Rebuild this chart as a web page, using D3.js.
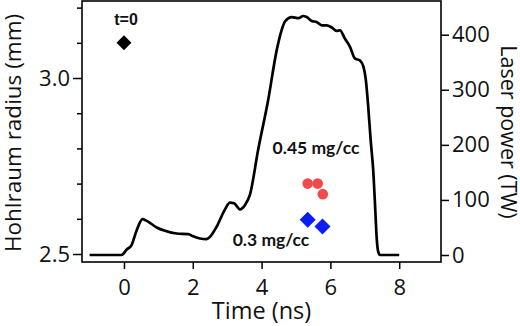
<!DOCTYPE html>
<html>
<head>
<meta charset="utf-8">
<script src="https://cdn.jsdelivr.net/npm/d3@7"></script>
<style>
  body { margin: 0; background: #fff; }
  svg { display: block; font-family: 'Open Sans', Lato, sans-serif; }
</style>
</head>
<body>
<div id="chart"></div>
<script>
// Laser pulse (right axis)
const powerTime = [-1.0, -0.07, 0.08, 0.22, 0.37, 0.54, 0.66, 0.95, 1.19, 1.53, 1.87, 2.01, 2.21, 2.40, 2.50,
  2.69, 2.93, 3.08, 3.20, 3.37, 3.52, 3.66, 3.90, 4.19, 4.44, 4.58, 4.68, 4.88, 5.07, 5.21, 5.31, 5.46,
  5.60, 5.75, 5.89, 6.04, 6.18, 6.28, 6.42, 6.57, 6.71, 6.86, 6.96, 7.03, 7.10, 7.17, 7.25, 7.30, 7.35,
  7.39, 7.44, 8.0];
const powerTW = [0, 0, 10, 18, 45, 65, 62, 50, 44, 39, 38, 34, 30, 29, 33,
  51, 82, 95, 94, 83, 91, 109, 191, 281, 372, 408, 424, 432, 430, 434, 432, 425,
  423, 417, 417, 413, 407, 408, 393, 378, 357, 353, 342, 318, 269, 209, 149, 88, 27,
  6, 0, 0];

// Hohlraum radius measurements (left axis)
const startTime = [0];
const startRadius = [3.1];
const highDensTime = [5.34, 5.63, 5.78];
const highDensRadius = [2.70, 2.70, 2.67];
const lowDensTime = [5.34, 5.77];
const lowDensRadius = [2.597, 2.578];

const xTicks = [0, 2, 4, 6, 8];
const radiusTicks = [2.5, 3.0];
const radiusMinor = [2.6, 2.7, 2.8, 2.9, 3.1, 3.2];
const powerTicks = [0, 100, 200, 300, 400];

const width = 520, height = 326;
const plotLeft = 82, plotRight = 441, plotTop = 1, plotBottom = 262;

const x = d3.scaleLinear().domain([-1.22, 9.215]).range([plotLeft, plotRight]);
const yR = d3.scaleLinear().domain([2.4773, 3.2188]).range([plotBottom, plotTop]);
const yP = d3.scaleLinear().domain([-12.7, 461.2]).range([plotBottom, plotTop]);

const svg = d3.select('#chart').append('svg')
  .attr('width', width)
  .attr('height', height);

// axes
const xAxis = svg.append('g')
  .attr('transform', `translate(0,${plotBottom})`)
  .call(d3.axisBottom(x).tickValues(xTicks).tickSize(7).tickPadding(10));

const yAxis = svg.append('g')
  .attr('transform', `translate(${plotLeft},0)`)
  .call(d3.axisLeft(yR).tickValues(radiusTicks).tickFormat(d3.format('.1f')).tickSize(9).tickPadding(3));

svg.append('g')
  .attr('transform', `translate(${plotLeft},0)`)
  .call(d3.axisLeft(yR).tickValues(radiusMinor).tickFormat('').tickSize(5));

const pAxis = svg.append('g')
  .attr('transform', `translate(${plotRight},0)`)
  .call(d3.axisRight(yP).tickValues(powerTicks).tickSize(8).tickPadding(3));

svg.selectAll('.domain').remove();
svg.selectAll('.tick line').attr('stroke', '#000').attr('stroke-width', 1.5);
[xAxis, yAxis, pAxis].forEach(g => g
  .attr('font-family', null)
  .attr('font-size', 22)
  .selectAll('text').attr('fill', '#111'));

// frame
svg.append('rect')
  .attr('x', plotLeft)
  .attr('y', plotTop)
  .attr('width', plotRight - plotLeft)
  .attr('height', plotBottom - plotTop)
  .attr('fill', 'none')
  .attr('stroke', '#000')
  .attr('stroke-width', 1.6);

// laser power
const line = d3.line()
  .x((d, i) => x(powerTime[i]))
  .y(d => yP(d))
  .curve(d3.curveMonotoneX);

svg.append('path')
  .datum(powerTW)
  .attr('d', line)
  .attr('fill', 'none')
  .attr('stroke', '#000')
  .attr('stroke-width', 2.7)
  .attr('stroke-linejoin', 'round');

// markers
const diamond = size => d3.symbol(d3.symbolSquare, size)();

svg.selectAll('.start')
  .data(startRadius)
  .enter()
  .append('path')
  .attr('d', diamond(112))
  .attr('transform', (d, i) => `translate(${x(startTime[i])},${yR(d)}) rotate(45)`)
  .attr('fill', '#000');

svg.selectAll('.high')
  .data(highDensRadius)
  .enter()
  .append('circle')
  .attr('cx', (d, i) => x(highDensTime[i]))
  .attr('cy', d => yR(d))
  .attr('r', 5.3)
  .attr('fill', '#f04a4a');

svg.selectAll('.low')
  .data(lowDensRadius)
  .enter()
  .append('path')
  .attr('d', diamond(128))
  .attr('transform', (d, i) => `translate(${x(lowDensTime[i])},${yR(d)}) rotate(45)`)
  .attr('fill', '#0b1ef0');

// annotations
const note = (tx, ty, s, family, size) => svg.append('text')
  .attr('x', tx)
  .attr('y', ty)
  .attr('text-anchor', 'middle')
  .attr('font-family', family)
  .attr('font-weight', 'bold')
  .attr('font-size', size)
  .attr('fill', '#111')
  .text(s);

note(126, 25, 't=0', "'Liberation Sans', Arial, sans-serif", 16);
note(316, 154, '0.45 mg/cc', 'Lato, sans-serif', 17.5);
note(271, 246, '0.3 mg/cc', 'Lato, sans-serif', 17.5);

// axis titles
svg.append('text')
  .attr('x', (plotLeft + plotRight) / 2)
  .attr('y', 319)
  .attr('text-anchor', 'middle')
  .attr('font-size', 23.5)
  .attr('fill', '#111')
  .text('Time (ns)');

svg.append('text')
  .attr('transform', `translate(21,133) rotate(-90)`)
  .attr('text-anchor', 'middle')
  .attr('font-size', 22.5)
  .attr('fill', '#111')
  .text('Hohlraum radius (mm)');

svg.append('text')
  .attr('transform', `translate(501,132) rotate(90)`)
  .attr('text-anchor', 'middle')
  .attr('font-size', 21.5)
  .attr('fill', '#111')
  .text('Laser power (TW)');
</script>
</body>
</html>
